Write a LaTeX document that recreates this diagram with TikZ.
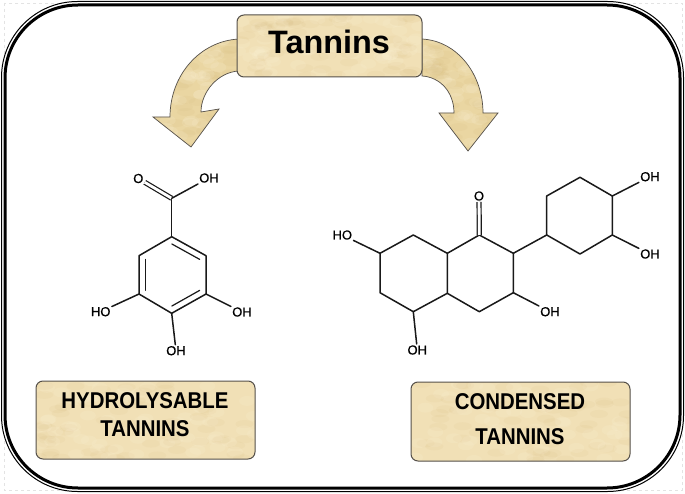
\documentclass[tikz,border=0pt]{standalone}
\usepackage{fontspec}
\setmainfont{Liberation Sans}
\newfontfamily\atomfont[BoldFont={Liberation Sans},BoldFeatures={FakeBold=0.5}]{Liberation Sans}
\usetikzlibrary{calc}
\definecolor{parch}{HTML}{F1E0B6}
\definecolor{parchA}{HTML}{EAD6A2}
\definecolor{blotD}{HTML}{C9A868}
\definecolor{blotL}{HTML}{FFF6DC}
\definecolor{edgeC}{HTML}{55504A}
\newcommand{\blotches}[1]{%
  \path (path picture bounding box.south west) coordinate (sw)
        (path picture bounding box.north east) coordinate (ne);
  \foreach \k in {1,...,#1}{
    \path[fill=blotD,opacity=.07] let \p1=(sw),\p2=(ne) in
      ({\x1+rnd*(\x2-\x1)},{\y1+rnd*(\y2-\y1)}) ellipse [x radius=9pt,y radius=4pt];
    \path[fill=blotL,opacity=.14] let \p1=(sw),\p2=(ne) in
      ({\x1+rnd*(\x2-\x1)},{\y1+rnd*(\y2-\y1)}) ellipse [x radius=8pt,y radius=5pt];
  }}
\tikzset{
  parchbox/.style={draw=edgeC,line width=1pt,fill=parch,rounded corners=7pt,inner sep=0pt,
    path picture={\blotches{60}}},
  parcharrow/.style={draw=edgeC,line width=.7pt,fill=parchA,line join=miter,
    path picture={\blotches{50}}},
  boxtext/.style={font=\fontsize{20.4}{22}\selectfont\bfseries,text=black,inner sep=0pt,yscale=1.12},
  titletext/.style={font=\fontsize{32.4}{34}\selectfont\bfseries,text=black,inner sep=0pt},
  atom/.style={font=\fontsize{13}{14}\selectfont\atomfont\bfseries,text=black,inner sep=1.2pt},
  bond/.style={line width=1.5pt,black!90,line cap=round,line join=round},
  dbond/.style={line width=1.2pt,black!90,double=white,double distance=2.8pt},
}
\begin{document}
\begin{tikzpicture}[x=1pt,y=-1pt]
\pgfmathsetseed{4711}
\useasboundingbox (0,0) rectangle (685,494);
\fill[white] (0,0) rectangle (685,494);
% faint dashed guide and frame
\draw[gray!22,line width=.5pt,dashed] (4,3) rectangle (682,490);
\draw[black,line width=1pt,fill=white,rounded corners=76pt] (1.5,1.5) rectangle (683.5,491.5);
\draw[black,line width=3pt,rounded corners=73pt] (5,5) rectangle (680,488);

% arrows
\path[parcharrow] (239,39) .. controls (200,41) and (170,75) .. (170,117)
  -- (153,117) -- (191,147) -- (219,109) -- (201,112)
  .. controls (201,92) and (218,72) .. (239,71) -- cycle;
\path[parcharrow] (422,39) .. controls (458,41) and (483,75) .. (483,113)
  -- (498,113) -- (468,151) -- (439,113) -- (454,113)
  .. controls (454,92) and (440,77) .. (422,76) -- cycle;

% boxes
\node[parchbox,minimum width=185pt,minimum height=62pt] (top) at (329.5,46) {};
\node[titletext] (toptext) at (329,42) {Tannins};
\node[parchbox,minimum width=219pt,minimum height=78pt] (hyd) at (145.5,420) {};
\node[boxtext] (hyd1) at (145,401) {HYDROLYSABLE};
\node[boxtext] (hyd2) at (145,429) {TANNINS};
\node[parchbox,minimum width=219pt,minimum height=79pt] (con) at (520.5,421.5) {};
\node[boxtext] (con1) at (520,402) {CONDENSED};
\node[boxtext] (con2) at (520,437) {TANNINS};

% gallic acid
\coordinate (ga) at (171.7,236.7);
\coordinate (gb) at (206,255.7);
\coordinate (gc) at (206,294);
\coordinate (gd) at (171.7,313.3);
\coordinate (ge) at (139,294);
\coordinate (gf) at (139,255.7);
\coordinate (gm) at (172.5,275);
\coordinate (gk) at (171.7,198.3);
\node[atom] (gO) at (138.3,178.5) {O};
\node[atom] (gOH) at (209,178) {OH};
\node[atom] (gOH1) at (100.7,311.7) {HO};
\node[atom] (gOH2) at (242,312) {OH};
\node[atom] (gOH3) at (176,350.7) {OH};
\draw[bond] (ga) -- (gb) -- (gc) -- (gd) -- (ge) -- (gf) -- cycle;
\draw[bond,line width=1.2pt] ($(gm)!.81!(ga)$) -- ($(gm)!.81!(gb)$);
\draw[bond,line width=1.2pt] ($(gm)!.81!(gc)$) -- ($(gm)!.81!(gd)$);
\draw[bond,line width=1.2pt] ($(gm)!.81!(ge)$) -- ($(gm)!.81!(gf)$);
\draw[bond] (ga) -- (gk);
\draw[dbond] (gk) -- (gO);
\draw[bond] (gk) -- (gOH);
\draw[bond] (ge) -- (gOH1);
\draw[bond] (gc) -- (gOH2);
\draw[bond] (gd) -- (gOH3);

% condensed structure
\coordinate (a) at (380,253.3);
\coordinate (b) at (413.3,235);
\coordinate (c) at (447.3,253.3);
\coordinate (d) at (447.3,293.3);
\coordinate (e) at (413.3,311.7);
\coordinate (f) at (380,292.7);
\coordinate (g) at (479.3,235);
\coordinate (h) at (513.3,253.3);
\coordinate (i) at (513.3,292.7);
\coordinate (j) at (479.3,311.7);
\coordinate (k) at (546.7,235);
\coordinate (l) at (546.7,196);
\coordinate (m) at (580,177.3);
\coordinate (n) at (612.3,196);
\coordinate (o) at (612.3,235);
\coordinate (p) at (580,254);
\node[atom] (cO) at (479,196) {O};
\node[atom] (cOH1) at (342.3,235) {HO};
\node[atom] (cOH2) at (417.3,350) {OH};
\node[atom] (cOH3) at (550,311.7) {OH};
\node[atom] (cOH4) at (650,176.7) {OH};
\node[atom] (cOH5) at (650,254) {OH};
\draw[bond] (a) -- (b) -- (c) -- (d) -- (e) -- (f) -- cycle;
\draw[bond] (c) -- (g) -- (h) -- (i) -- (j) -- (d);
\draw[bond] (k) -- (l) -- (m) -- (n) -- (o) -- (p) -- cycle;
\draw[bond] (h) -- (k);
\draw[dbond] (g) -- (cO);
\draw[bond] (a) -- (cOH1);
\draw[bond] (e) -- (cOH2);
\draw[bond] (i) -- (cOH3);
\draw[bond] (n) -- (cOH4);
\draw[bond] (o) -- (cOH5);
\end{tikzpicture}
\end{document}
